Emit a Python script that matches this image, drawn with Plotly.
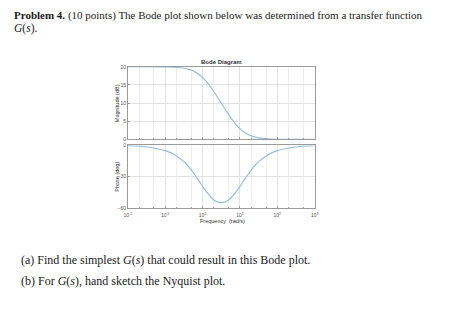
import plotly.graph_objects as go

# Frequency samples (rad/s) with magnitude (dB) and phase (deg)
freq = [0.01, 0.0316, 0.1, 0.178, 0.316, 0.422, 0.562, 0.750, 1.0, 1.334,
        1.78, 2.371, 3.16, 4.217, 5.62, 7.499, 10.0, 13.34, 17.8, 23.71,
        31.6, 56.2, 100.0, 316.0, 1000.0]
mag_db = [20.0, 20.0, 19.96, 19.87, 19.59, 19.30, 18.82, 18.09, 17.03, 15.64,
          13.94, 12.03, 10.0, 7.97, 6.06, 4.36, 2.97, 1.91, 1.18, 0.70,
          0.41, 0.13, 0.04, 0.0, 0.0]
phase_deg = [-0.5, -1.6, -5.1, -9.1, -15.7, -20.5, -26.1, -32.6, -39.3, -45.5,
             -50.6, -53.8, -54.9, -53.8, -50.6, -45.5, -39.3, -32.6, -26.1, -20.5,
             -15.7, -9.1, -5.1, -1.6, -0.5]

mag_ticks = [0, 5, 10, 15, 20]
phase_ticks = [0, -30, -60]
freq_ticks = [0.01, 0.1, 1, 10, 100, 1000]
freq_labels = ["10<sup>-2</sup>", "10<sup>-1</sup>", "10<sup>0</sup>",
               "10<sup>1</sup>", "10<sup>2</sup>", "10<sup>3</sup>"]

W, H = 474, 319
line_color = "#8fbbe3"
grid_color = "#e2e2e2"
axis_color = "#9a9a9a"
tick_font = dict(family="Liberation Sans", size=5, color="#555555")

fig = go.Figure()
fig.add_trace(go.Scatter(x=freq, y=mag_db, mode="lines", xaxis="x", yaxis="y",
                         line=dict(color=line_color, width=1.1, shape="spline"),
                         showlegend=False))
fig.add_trace(go.Scatter(x=freq, y=phase_deg, mode="lines", xaxis="x2", yaxis="y2",
                         line=dict(color=line_color, width=1.1, shape="spline"),
                         showlegend=False))

x_dom = [126 / W, 316 / W]
common_x = dict(type="log", range=[-2, 3], domain=x_dom, tickvals=freq_ticks,
                showgrid=True, gridcolor=grid_color, gridwidth=0.6,
                showline=True, linecolor=axis_color, linewidth=0.8, mirror=True,
                ticks="inside", ticklen=2, tickcolor=axis_color,
                minor=dict(showgrid=True, gridcolor="#eeeeee", gridwidth=0.5,
                           ticks="inside", ticklen=1, tickcolor=axis_color),
                zeroline=False, tickfont=tick_font)
common_y = dict(showgrid=True, gridcolor=grid_color, gridwidth=0.6,
                showline=True, linecolor=axis_color, linewidth=0.8, mirror=True,
                ticks="inside", ticklen=2, tickcolor=axis_color,
                zeroline=False, tickfont=tick_font)

fig.update_layout(
    width=W, height=H, margin=dict(l=0, r=0, t=0, b=0),
    paper_bgcolor="white", plot_bgcolor="white",
    xaxis=dict(common_x, anchor="y", showticklabels=False),
    yaxis=dict(common_y, domain=[1 - 139 / H, 1 - 65 / H], range=[0, 20],
               tickvals=mag_ticks),
    xaxis2=dict(common_x, anchor="y2", ticktext=freq_labels, matches="x",
                ticklabelstandoff=2),
    yaxis2=dict(common_y, domain=[1 - 209 / H, 1 - 145 / H], range=[-60, 0],
                tickvals=phase_ticks),
)

serif = "Liberation Serif"
notes = [
    dict(x=8, y=13, text="<b>Problem 4.</b> (10 points) The Bode plot shown below was determined from a transfer function",
         size=11),
    dict(x=8, y=26, text="<i>G</i>(<i>s</i>).", size=11.5),
    dict(x=15, y=262, text="(a) Find the simplest <i>G</i>(<i>s</i>) that could result in this Bode plot.",
         size=12),
    dict(x=15, y=283, text="(b) For <i>G</i>(<i>s</i>), hand sketch the Nyquist plot.",
         size=12),
]
for n in notes:
    fig.add_annotation(xref="paper", yref="paper", x=n["x"] / W, y=1 - n["y"] / H,
                       xanchor="left", yanchor="middle", showarrow=False,
                       text=n["text"], font=dict(family=serif, size=n["size"], color="#1a1a1a"))

small = dict(family="Liberation Sans", size=5.5, color="#333333")
fig.add_annotation(xref="paper", yref="paper", x=221 / W, y=1 - 60 / H,
                   text="<b>Bode Diagram</b>", showarrow=False,
                   xanchor="center", yanchor="middle", font=dict(small, size=6))
fig.add_annotation(xref="paper", yref="paper", x=222 / W, y=1 - 222 / H,
                   text="Frequency  (rad/s)", showarrow=False,
                   xanchor="center", yanchor="middle", font=small)
fig.add_annotation(xref="paper", yref="paper", x=115 / W, y=1 - 102 / H,
                   text="Magnitude (dB)", showarrow=False, textangle=-90,
                   xanchor="center", yanchor="middle", font=small)
fig.add_annotation(xref="paper", yref="paper", x=115 / W, y=1 - 177 / H,
                   text="Phase (deg)", showarrow=False, textangle=-90,
                   xanchor="center", yanchor="middle", font=small)

fig.write_html("out.html")
